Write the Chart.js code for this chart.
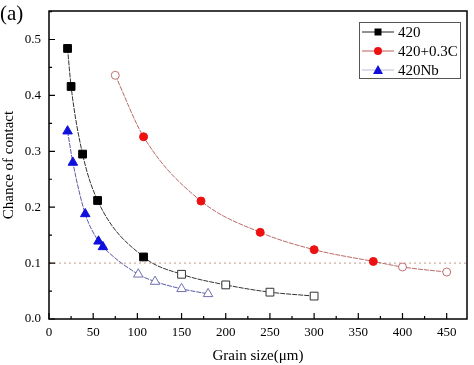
<!DOCTYPE html>
<html>
<head>
<meta charset="utf-8">
<script src="https://cdn.jsdelivr.net/npm/chart.js@4"></script>
<style>
  html, body { margin: 0; padding: 0; background: #fff; }
</style>
</head>
<body>
<canvas id="chart1" width="474" height="365"></canvas>
<script>
// data
var grain420 = [21, 25, 38, 55, 107, 150, 200, 250, 300];
var chance420 = [0.484, 0.416, 0.295, 0.212, 0.111, 0.080, 0.061, 0.048, 0.041];
var filled420 = [1, 1, 1, 1, 1, 0, 0, 0, 0];

var grainC = [75, 107, 172, 239, 300, 367, 400, 450];
var chanceC = [0.436, 0.326, 0.211, 0.155, 0.124, 0.103, 0.093, 0.084];
var filledC = [0, 1, 1, 1, 1, 1, 0, 0];

var grainNb = [21, 27, 41, 56, 61, 101, 120, 150, 180];
var chanceNb = [0.336, 0.280, 0.188, 0.139, 0.129, 0.080, 0.067, 0.054, 0.045];
var filledNb = [1, 1, 1, 1, 1, 0, 0, 0, 0];

var xTicks = [0, 50, 100, 150, 200, 250, 300, 350, 400, 450];
var yTicks = [0.0, 0.1, 0.2, 0.3, 0.4, 0.5];
var refLine = 0.1;

var serif = "'Liberation Serif', 'Times New Roman', serif";

function pts(xs, ys) {
  return xs.map(function(x, i) { return { x: x, y: ys[i] }; });
}
function fills(flags, col) {
  return flags.map(function(f) { return f ? col : '#ffffff'; });
}
function edges(flags, col, openCol) {
  return flags.map(function(f) { return f ? col : openCol; });
}

// frame, inward ticks, dotted reference line, legend box
var decor = {
  id: 'decor',
  beforeDatasetsDraw: function(chart) {
    var c = chart.ctx, a = chart.chartArea;
    var y = chart.scales.y;
    var yy = y.getPixelForValue(refLine);
    c.save();
    c.strokeStyle = '#c49a88';
    c.lineWidth = 1;
    c.setLineDash([2, 3]);
    c.beginPath();
    c.moveTo(a.left, yy);
    c.lineTo(a.right, yy);
    c.stroke();
    c.restore();
  },
  afterDraw: function(chart) {
    var c = chart.ctx, a = chart.chartArea;
    var x = chart.scales.x, y = chart.scales.y;
    c.save();
    c.strokeStyle = '#000';
    c.lineWidth = 1.5;
    c.strokeRect(a.left, a.top, a.right - a.left, a.bottom - a.top);
    c.lineWidth = 1.2;
    c.beginPath();
    for (var v = 0; v <= 473; v += 25) {
      var px = x.getPixelForValue(v);
      var len = (v % 50 === 0) ? 6 : 3;
      c.moveTo(px, a.bottom);
      c.lineTo(px, a.bottom - len);
    }
    for (var k = 0; k <= 11; k++) {
      var py = y.getPixelForValue(k * 0.05);
      var l2 = (k % 2 === 0) ? 6 : 3;
      c.moveTo(a.left, py);
      c.lineTo(a.left + l2, py);
    }
    c.stroke();

    // (a)
    c.fillStyle = '#000';
    c.font = "21px " + serif;
    c.textBaseline = 'top';
    c.textAlign = 'left';
    c.fillText('(a)', 0, 4);

    // legend
    var lx = 359, ly = 22, lw = 101, lh = 56;
    c.fillStyle = '#fff';
    c.fillRect(lx, ly, lw, lh);
    c.strokeStyle = '#555';
    c.lineWidth = 1;
    c.strokeRect(lx + 0.5, ly + 0.5, lw, lh);
    var items = [
      { t: '420', line: '#222', col: '#000', shape: 'rect' },
      { t: '420+0.3C', line: '#c05a5a', col: '#ee1111', shape: 'circle' },
      { t: '420Nb', line: '#b8bcd8', col: '#1010dd', shape: 'triangle' }
    ];
    c.font = "15px " + serif;
    c.textBaseline = 'middle';
    items.forEach(function(it, i) {
      var cy = ly + 10 + i * 19;
      c.strokeStyle = it.line;
      c.lineWidth = 1;
      c.beginPath();
      c.moveTo(lx + 3, cy);
      c.lineTo(lx + 35, cy);
      c.stroke();
      c.fillStyle = it.col;
      c.beginPath();
      if (it.shape === 'rect') {
        c.rect(lx + 19 - 3.5, cy - 3.5, 7, 7);
      } else if (it.shape === 'circle') {
        c.arc(lx + 19, cy, 4, 0, Math.PI * 2);
      } else {
        c.moveTo(lx + 19, cy - 5);
        c.lineTo(lx + 24, cy + 4);
        c.lineTo(lx + 14, cy + 4);
        c.closePath();
      }
      c.fill();
      c.fillStyle = '#000';
      c.fillText(it.t, lx + 39, cy + 1);
    });
    c.restore();
  }
};

var ctx = document.getElementById('chart1').getContext('2d');

var myChart = new Chart(ctx, {
  type: 'scatter',
  data: {
    datasets: [{
      label: '420',
      data: pts(grain420, chance420),
      showLine: true,
      cubicInterpolationMode: 'monotone',
      borderColor: '#333333',
      borderWidth: 1,
      borderDash: [5, 1],
      pointStyle: 'rect',
      pointRadius: 5.5,
      pointBackgroundColor: fills(filled420, '#000000'),
      pointBorderColor: edges(filled420, '#000000', '#333333'),
      pointBorderWidth: 1
    }, {
      label: '420+0.3C',
      data: pts(grainC, chanceC),
      showLine: true,
      cubicInterpolationMode: 'monotone',
      borderColor: '#b86a6a',
      borderWidth: 1,
      borderDash: [5, 1],
      pointStyle: 'circle',
      pointRadius: 4,
      pointBackgroundColor: fills(filledC, '#ee1111'),
      pointBorderColor: edges(filledC, '#ee1111', '#c07070'),
      pointBorderWidth: 1
    }, {
      label: '420Nb',
      data: pts(grainNb, chanceNb),
      showLine: true,
      cubicInterpolationMode: 'monotone',
      borderColor: '#5a5aa8',
      borderWidth: 1,
      borderDash: [5, 1],
      pointStyle: 'triangle',
      pointRadius: 5.5,
      pointBackgroundColor: fills(filledNb, '#1010dd'),
      pointBorderColor: edges(filledNb, '#1010dd', '#7070b0'),
      pointBorderWidth: 1
    }]
  },
  options: {
    responsive: false,
    animation: false,
    layout: { padding: { left: 0, top: 11, right: 7, bottom: 0 } },
    plugins: {
      legend: { display: false },
      tooltip: { enabled: false }
    },
    scales: {
      x: {
        type: 'linear',
        min: 0,
        max: 473,
        afterFit: function(s) { s.height = 46; s.paddingLeft = 0; s.paddingRight = 0; },
        afterBuildTicks: function(s) { s.ticks = xTicks.map(function(v) { return { value: v }; }); },
        grid: { display: false, drawTicks: false },
        border: { display: false },
        ticks: {
          color: '#000',
          padding: 6,
          maxRotation: 0,
          font: { family: serif, size: 13 }
        },
        title: {
          display: true,
          text: 'Grain size(\u03bcm)',
          color: '#000',
          padding: { top: 1, bottom: 0 },
          font: { family: serif, size: 15 }
        }
      },
      y: {
        type: 'linear',
        min: 0,
        max: 0.551,
        afterFit: function(s) { s.width = 49; s.paddingTop = 0; s.paddingBottom = 0; },
        afterBuildTicks: function(s) { s.ticks = yTicks.map(function(v) { return { value: v }; }); },
        grid: { display: false, drawTicks: false },
        border: { display: false },
        ticks: {
          color: '#000',
          padding: 8,
          callback: function(v) { return v.toFixed(1); },
          font: { family: serif, size: 13 }
        },
        title: {
          display: true,
          text: 'Chance of contact',
          color: '#000',
          padding: { top: 0, bottom: 2 },
          font: { family: serif, size: 15 }
        }
      }
    }
  },
  plugins: [decor]
});
</script>
</body>
</html>
